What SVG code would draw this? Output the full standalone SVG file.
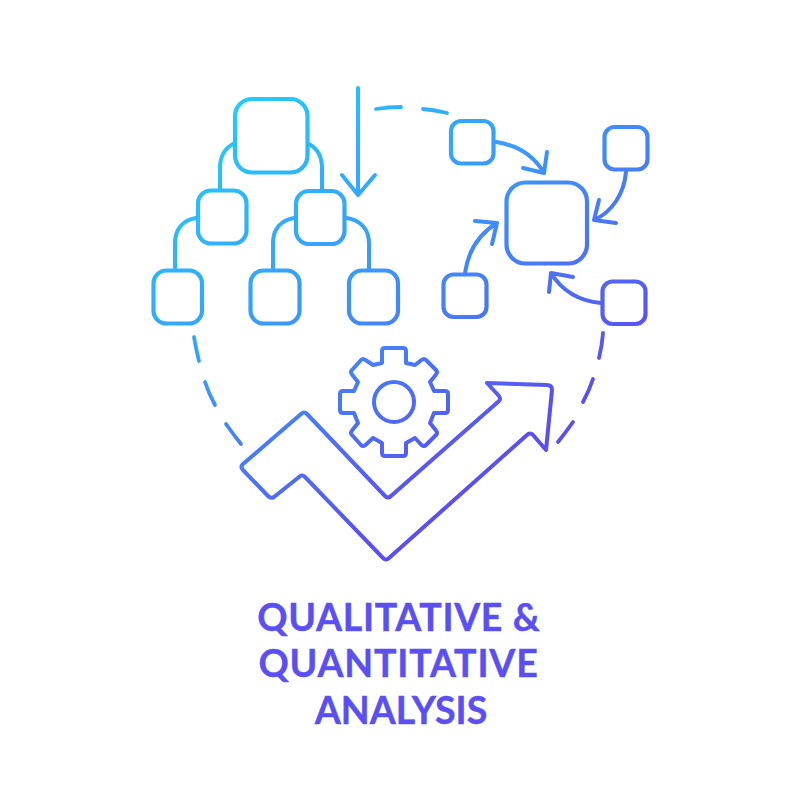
<svg xmlns="http://www.w3.org/2000/svg" width="800" height="800" viewBox="0 0 800 800">
<defs>
<linearGradient id="g" gradientUnits="userSpaceOnUse" x1="234" y1="98" x2="486" y2="450">
<stop offset="0" stop-color="#22cdfb"/><stop offset="0.5" stop-color="#3b98f9"/><stop offset="1" stop-color="#5a50f2"/>
</linearGradient>
</defs>
<style>
.s{fill:none;stroke:url(#g);stroke-width:4;stroke-linecap:round;stroke-linejoin:round}
.n{fill:#fff;stroke:url(#g);stroke-width:4.2}
.d{stroke-width:3.8}
.t{font-family:"Lato","Liberation Sans",sans-serif;font-weight:700;font-size:37.5px;fill:#5a50f2;stroke:#5a50f2;stroke-width:0.4;text-anchor:middle}
</style>
<rect width="800" height="800" fill="#fff"/>
<g id="connectors" class="s">
<path d="M233,144C224,149 220,157 220,168V190"/>
<path d="M309,144C318,149 322,157 322,168V191"/>
<path d="M196,218C183,220 175,229 175,243V270"/>
<path d="M294,218C281,220 273,229 273,243V270"/>
<path d="M347,218C360,220 369,229 369,243V270"/>
<path d="M358,88V195M342,175L358,195L375,175"/>
<path d="M496,142C517,145 534,156 544,173M523,168L544,173L547,152"/>
<path d="M626,172C624,194 612,212 594,220M599,200L594,220L616,223"/>
<path d="M465,273C468,252 479,234 497,223M475,221L497,223L492,244"/>
<path d="M601,303C580,301 562,291 551,273M573,277L551,273L549,292"/>
</g>
<g id="dashed-ring" class="s d">
<path d="M376,109Q388,107 401,107"/>
<path d="M423,109Q435,110 447,113"/>
<path d="M194,337Q196,349 199,361"/>
<path d="M205,382Q209,394 215,405"/>
<path d="M226,424Q233,434 241,444"/>
<path d="M603,333Q602,346 599,358"/>
<path d="M593,379Q589,391 583,402"/>
<path d="M573,422Q566,432 558,442"/>
</g>
<g id="tree-root"><rect class="n" x="235" y="99" width="72.500" height="73.500" rx="17"/></g>
<g id="tree-mid-left"><rect class="n" x="198" y="190.500" width="48.500" height="53" rx="13"/></g>
<g id="tree-mid-right"><rect class="n" x="296" y="191" width="48.500" height="53" rx="13"/></g>
<g id="tree-leaf-1"><rect class="n" x="153.500" y="270.500" width="48.500" height="53" rx="13"/></g>
<g id="tree-leaf-2"><rect class="n" x="250.500" y="270.500" width="49" height="53" rx="13"/></g>
<g id="tree-leaf-3"><rect class="n" x="349" y="270.500" width="49" height="53" rx="13"/></g>
<g id="hub"><rect class="n" x="506.500" y="182.500" width="80.500" height="81" rx="19"/></g>
<g id="sat-top"><rect class="n" x="451" y="121" width="42.500" height="42.500" rx="10"/></g>
<g id="sat-right"><rect class="n" x="604.500" y="127" width="43" height="42.500" rx="10"/></g>
<g id="sat-left"><rect class="n" x="443.500" y="274.500" width="43" height="42.500" rx="10"/></g>
<g id="sat-bottom"><rect class="n" x="602.500" y="281.500" width="43" height="42.500" rx="10"/></g>
<g id="gear" class="s">
<path d="M382,363V351Q382,348 385,348H403Q406,348 406,351V363L415,365L421.500,360Q424,358 426,360L436,370Q438,372 436,374.500L430,382L434,391H445Q448,391 448,394V410Q448,413 445,413H434L430,423L436,430.500Q438,433 436,435L426,445Q424,447 421.500,445L415,438L406,443V453Q406,456 403,456H385Q382,456 382,453V443L373,438L365.500,445Q363,447 361,445L352,435Q350,433 352,430.500L358,423L354,413H343Q340,413 340,410V394Q340,391 343,391H354L358,382L352,374.500Q350,372 352,370L361,360Q363,358 365.500,360L373,365Z"/>
<circle cx="394" cy="402" r="20"/>
</g>
<g id="trend-arrow" class="s">
<path d="M243,464L301,414Q304,411 307,414L385,496Q388,499 391,496L499,401Q501,399 499,396L487,383L547,385Q552,385 552,390L546,450L533,435Q530,432 527,435L389,558Q386,561 383,558L305,477Q302,474 299,477L274,497Q271,499 268,496L243,470Q240,467 243,464Z"/>
</g>
<g id="title">
<text class="t" x="399" y="631" letter-spacing="0.65">QUALITATIVE &amp;</text>
<text class="t" x="398.500" y="677" letter-spacing="0.8">QUANTITATIVE</text>
<text class="t" x="401" y="724">ANALYSIS</text>
</g>
</svg>
